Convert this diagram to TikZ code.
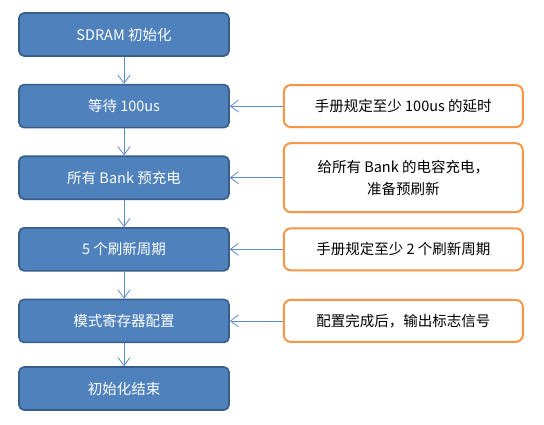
\documentclass[tikz,border=0pt]{standalone}
\usepackage{fontspec}
\setmainfont{Noto Sans CJK SC}
\usetikzlibrary{positioning, arrows.meta}
\definecolor{stepblue}{HTML}{4F81BD}
\definecolor{stepedge}{HTML}{385D8A}
\definecolor{noteorange}{HTML}{F79646}
\definecolor{linkblue}{HTML}{5B8BCB}

\begin{document}
\begin{tikzpicture}[node distance=27pt and 53pt,
        stepbox/.style={draw=stepedge, line width=1.6pt, fill=stepblue, text=white, rounded corners=5pt,
            minimum width=210pt, minimum height=43pt, font=\fontsize{14.5}{17}\selectfont},
        notebox/.style={draw=noteorange, line width=2pt, fill=white, rounded corners=7pt, align=center,
            minimum width=239pt, minimum height=42pt, font=\fontsize{14.5}{22}\selectfont},
        link/.style={draw=linkblue, line width=0.8pt, -{Straight Barb[length=8pt, width=12pt]}}]
        \useasboundingbox (0,0) rectangle (544pt,-424pt);

        \node[stepbox] at (124pt,-34.5pt)   (init)    {SDRAM 初始化};
        \node[stepbox, below=of init]       (wait)    {等待 100us};
        \node[stepbox, below=of wait]       (bank)    {所有 Bank 预充电};
        \node[stepbox, below=of bank]       (refresh) {5 个刷新周期};
        \node[stepbox, below=of refresh]    (mode)    {模式寄存器配置};
        \node[stepbox, below=23pt of mode]  (done)    {初始化结束};

        \node[notebox, right=of wait]                      (note 1) {手册规定至少 100us 的延时};
        \node[notebox, right=of bank, minimum height=69pt] (note 2) {给所有 Bank 的电容充电，\\准备预刷新};
        \node[notebox, right=of refresh]                   (note 3) {手册规定至少 2 个刷新周期};
        \node[notebox, right=of mode]                      (note 4) {配置完成后，输出标志信号};

        \draw[link] (init)    -- (wait);
        \draw[link] (wait)    -- (bank);
        \draw[link] (bank)    -- (refresh);
        \draw[link] (refresh) -- (mode);
        \draw[link] (mode)    -- (done);
        \draw[link] (note 1)  -- (wait);
        \draw[link] (note 2)  -- (bank);
        \draw[link] (note 3)  -- (refresh);
        \draw[link] (note 4)  -- (mode);
    \end{tikzpicture}
\end{document}
